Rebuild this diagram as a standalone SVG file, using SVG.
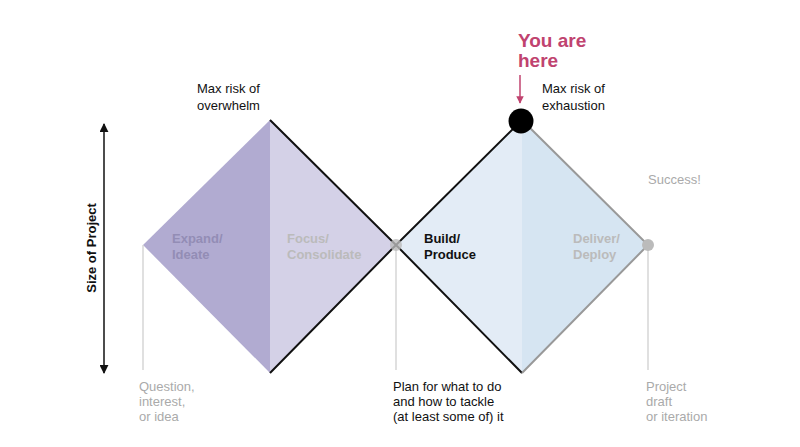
<svg xmlns="http://www.w3.org/2000/svg" width="800" height="447" viewBox="0 0 800 447">
<style>
text{font-family:"Liberation Sans",Arial,sans-serif;font-size:13px}
.b{font-weight:bold}
.g{fill:#aaa}
.k{fill:#111}
.vl{stroke:#ccc;stroke-width:1.2}
</style>
<defs>
<marker id="ah" viewBox="0 0 10 10" refX="9" refY="5" markerWidth="6" markerHeight="6" orient="auto-start-reverse"><path d="M0,0L10,5L0,10z" fill="#111"/></marker>
<marker id="ap" viewBox="0 0 10 10" refX="9" refY="5" markerWidth="5" markerHeight="5" orient="auto"><path d="M0,0L10,5L0,10z" fill="#c0436f"/></marker>
</defs>
<rect width="800" height="447" fill="#fff"/>
<g id="axis">
<line x1="104" y1="124" x2="104" y2="373" stroke="#111" stroke-width="1.5" marker-start="url(#ah)" marker-end="url(#ah)"/>
<text class="b k" transform="translate(96,248) rotate(-90)" text-anchor="middle">Size of Project</text>
</g>
<g id="diamond1">
<polygon points="143,245 270,120 270,373" fill="#b1abd1"/>
<polygon points="270,120 396,245 270,373" fill="#d4d1e7"/>
<text class="b" fill="#938db5" x="172" y="243">Expand/</text><text class="b" fill="#938db5" x="172" y="259">Ideate</text>
<text class="b" fill="#bbb" x="287" y="243">Focus/</text><text class="b" fill="#bbb" x="287" y="259">Consolidate</text>
</g>
<g id="diamond2">
<polygon points="396,245 522,120 522,373" fill="#e3ecf6"/>
<polygon points="522,120 648,245 522,373" fill="#d6e5f2"/>
<text class="b k" x="424" y="243">Build/</text><text class="b k" x="424" y="259">Produce</text>
<text class="b" fill="#bbb" x="573" y="243">Deliver/</text><text class="b" fill="#bbb" x="573" y="259">Deploy</text>
</g>
<g id="connectors">
<line class="vl" x1="143" y1="245" x2="143" y2="370"/>
<line class="vl" x1="396" y1="245" x2="396" y2="370"/>
<line class="vl" x1="648" y1="245" x2="648" y2="370"/>
<polyline points="270,120 396,245 270,373" fill="none" stroke="#111" stroke-width="2"/>
<polyline points="522,120 396,245 522,373" fill="none" stroke="#111" stroke-width="2"/>
<polyline points="522,120 648,245 522,373" fill="none" stroke="#999" stroke-width="2"/>
<line x1="520" y1="75" x2="520" y2="103" stroke="#c0436f" stroke-width="1.5" marker-end="url(#ap)"/>
</g>
<g id="points">
<circle cx="396" cy="245" r="6" fill="#bbb" opacity="0.8"/>
<circle cx="648" cy="245" r="6" fill="#bbb"/>
<circle cx="521" cy="121" r="12.5" fill="#000"/>
</g>
<g id="labels">
<text class="k" x="197" y="93">Max risk of</text><text class="k" x="197" y="110">overwhelm</text>
<text class="k" x="542" y="93">Max risk of</text><text class="k" x="542" y="110">exhaustion</text>
<text class="b" fill="#c0436f" x="518" y="47" style="font-size:19px">You are</text>
<text class="b" fill="#c0436f" x="518" y="67" style="font-size:19px">here</text>
<text class="g" x="648" y="184">Success!</text>
<text class="g" x="139" y="391">Question,</text><text class="g" x="139" y="406">interest,</text><text class="g" x="139" y="421">or idea</text>
<text class="k" x="393" y="391">Plan for what to do</text><text class="k" x="393" y="406">and how to tackle</text><text class="k" x="393" y="421">(at least some of) it</text>
<text class="g" x="646" y="391">Project</text><text class="g" x="646" y="406">draft</text><text class="g" x="646" y="421">or iteration</text>
</g>
</svg>
